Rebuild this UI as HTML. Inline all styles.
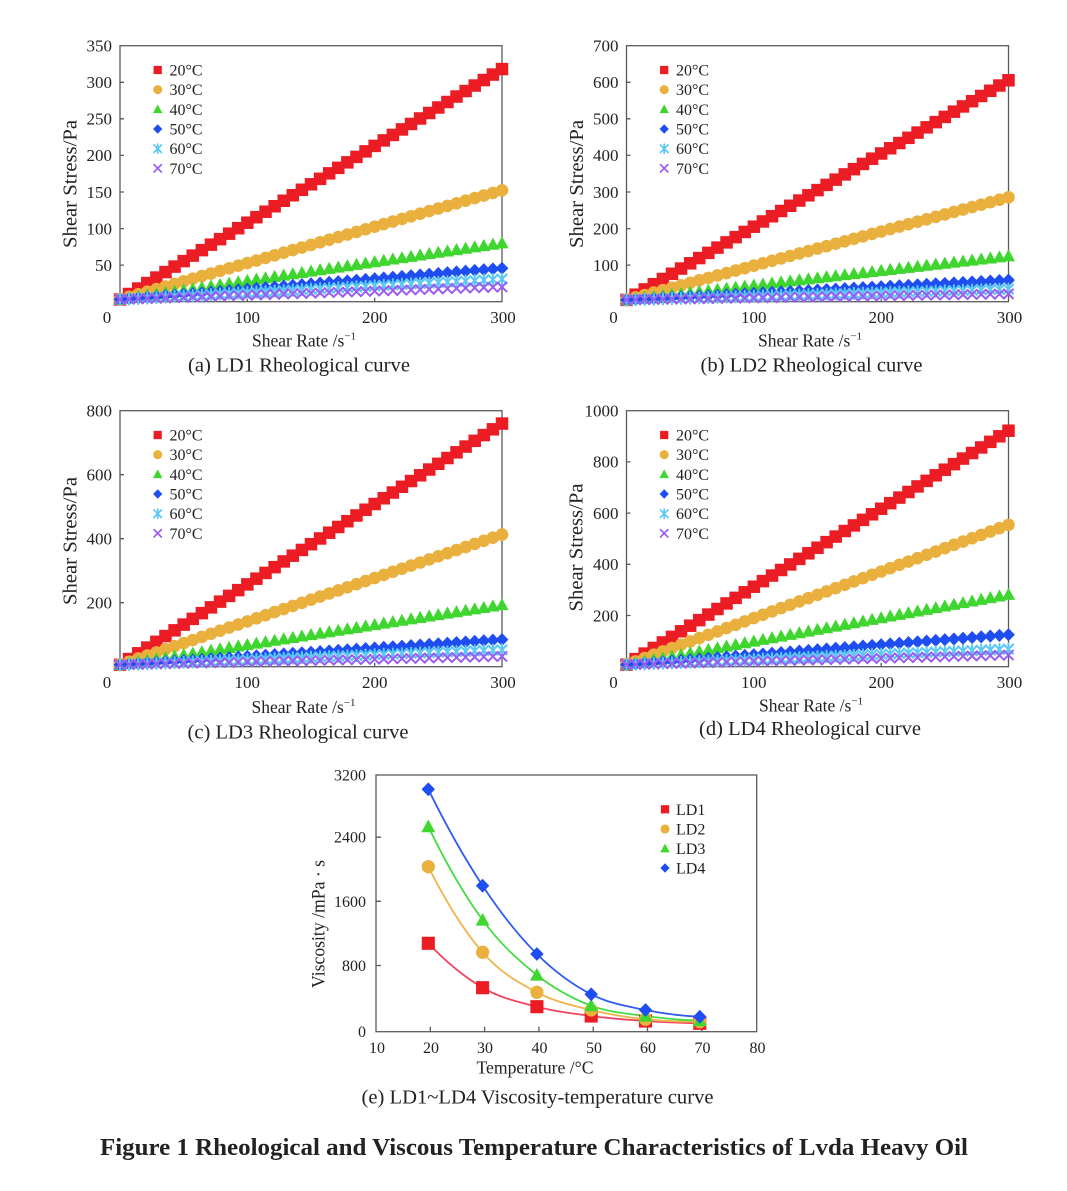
<!DOCTYPE html>
<html><head><meta charset="utf-8">
<style>
html,body{margin:0;padding:0;background:#fff}
svg{display:block}
text{font-family:"Liberation Serif","DejaVu Serif",serif;fill:#222}
.tk{font-size:17px}
.tk2{font-size:16px}
.lg{font-size:16px}
.ax{font-size:17.5px}
.cap{font-size:20.5px}
.yt{font-size:20.5px}
</style></head>
<body>
<svg width="1067" height="1191" viewBox="0 0 1067 1191" xmlns="http://www.w3.org/2000/svg">
<rect width="1067" height="1191" fill="#fff"/>
<defs>
<g id="gsq"><rect x="-6.25" y="-6.25" width="12.5" height="12.5" fill="#ec1c24"/></g>
<g id="gci"><circle r="6.3" fill="#eab03e"/></g>
<g id="gtr"><polygon points="0,-6.8 6.6,5.3 -6.6,5.3" fill="#3fd62f"/></g>
<g id="gdi"><polygon points="0,-6.6 6.4,0 0,6.6 -6.4,0" fill="#1f4ef0"/></g>
<g id="gst" stroke="#5bc8f5" stroke-width="2.1" stroke-linecap="round" fill="none"><path d="M-4.6-4.6L4.6 4.6M4.6-4.6L-4.6 4.6M0-5.6V5.6"/></g>
<g id="gxx" stroke="#9b5cf2" stroke-width="2" stroke-linecap="round" fill="none"><path d="M-4.5-4.5L4.5 4.5M4.5-4.5L-4.5 4.5"/></g>
<marker id="msq" markerUnits="userSpaceOnUse" markerWidth="14" markerHeight="14" refX="7" refY="7" overflow="visible" orient="0"><use href="#gsq" x="7" y="7"/></marker>
<marker id="mci" markerUnits="userSpaceOnUse" markerWidth="14" markerHeight="14" refX="7" refY="7" overflow="visible" orient="0"><use href="#gci" x="7" y="7"/></marker>
<marker id="mtr" markerUnits="userSpaceOnUse" markerWidth="14" markerHeight="14" refX="7" refY="7" overflow="visible" orient="0"><use href="#gtr" x="7" y="7"/></marker>
<marker id="mdi" markerUnits="userSpaceOnUse" markerWidth="14" markerHeight="14" refX="7" refY="7" overflow="visible" orient="0"><use href="#gdi" x="7" y="7"/></marker>
<marker id="mst" markerUnits="userSpaceOnUse" markerWidth="14" markerHeight="14" refX="7" refY="7" overflow="visible" orient="0"><use href="#gst" x="7" y="7"/></marker>
<marker id="mxx" markerUnits="userSpaceOnUse" markerWidth="14" markerHeight="14" refX="7" refY="7" overflow="visible" orient="0"><use href="#gxx" x="7" y="7"/></marker>
<g id="legend">
<use href="#gsq" transform="translate(37.7,24.3) scale(0.66)"/>
<use href="#gci" transform="translate(37.7,44) scale(0.72)"/>
<use href="#gtr" transform="translate(37.7,63.6) scale(0.72)"/>
<use href="#gdi" transform="translate(37.7,83.3) scale(0.72)"/>
<use href="#gst" transform="translate(37.7,103) scale(0.82)"/>
<use href="#gxx" transform="translate(37.7,122.6) scale(0.82)"/>
<text class="lg" x="49.5" y="29.8">20°C</text>
<text class="lg" x="49.5" y="49.5">30°C</text>
<text class="lg" x="49.5" y="69.1">40°C</text>
<text class="lg" x="49.5" y="88.8">50°C</text>
<text class="lg" x="49.5" y="108.5">60°C</text>
<text class="lg" x="49.5" y="128.1">70°C</text>
</g>
</defs>

<!-- ============ Panel (a) ============ -->
<g transform="translate(120,45.7)">
<rect width="382" height="256" fill="none" stroke="#5a5a5a" stroke-width="1.3"/>
<path d="M0 219.4h4M0 182.9h4M0 146.3h4M0 109.7h4M0 73.1h4M0 36.6h4M127.3 256v-4M254.7 256v-4" stroke="#5a5a5a" stroke-width="1.3"/>
<g class="tk" text-anchor="end">
<text x="-8" y="225.2">50</text><text x="-8" y="188.7">100</text><text x="-8" y="152.1">150</text><text x="-8" y="115.5">200</text><text x="-8" y="78.9">250</text><text x="-8" y="42.4">300</text><text x="-8" y="5.8">350</text>
</g>
<g class="tk" text-anchor="middle"><text x="-13" y="277.5">0</text><text x="127.3" y="277.3">100</text><text x="254.7" y="277.3">200</text><text x="383" y="277.3">300</text></g>
<g fill="none" stroke="none">
<path marker-start="url(#msq)" marker-mid="url(#msq)" marker-end="url(#msq)" d="M0 253.8l9.095-5.486 9.095-5.486 9.095-5.486 9.095-5.486 9.095-5.486 9.095-5.486 9.095-5.486 9.095-5.486 9.095-5.486 9.095-5.486
9.095-5.486 9.095-5.486 9.095-5.486 9.095-5.486 9.095-5.486 9.095-5.486 9.095-5.486 9.095-5.486 9.095-5.486 9.095-5.486
9.095-5.486 9.095-5.486 9.095-5.486 9.095-5.486 9.095-5.486 9.095-5.486 9.095-5.486 9.095-5.486 9.095-5.486 9.095-5.486
9.095-5.486 9.095-5.486 9.095-5.486 9.095-5.486 9.095-5.486 9.095-5.486 9.095-5.486 9.095-5.486 9.095-5.486 9.095-5.486
9.095-5.486 9.095-5.486"/>
<path marker-start="url(#mci)" marker-mid="url(#mci)" marker-end="url(#mci)" d="M0 253.8l9.095-2.6 9.095-2.6 9.095-2.6 9.095-2.6 9.095-2.6 9.095-2.6 9.095-2.6 9.095-2.6 9.095-2.6 9.095-2.6
9.095-2.6 9.095-2.6 9.095-2.6 9.095-2.6 9.095-2.6 9.095-2.6 9.095-2.6 9.095-2.6 9.095-2.6 9.095-2.6
9.095-2.6 9.095-2.6 9.095-2.6 9.095-2.6 9.095-2.6 9.095-2.6 9.095-2.6 9.095-2.6 9.095-2.6 9.095-2.6
9.095-2.6 9.095-2.6 9.095-2.6 9.095-2.6 9.095-2.6 9.095-2.6 9.095-2.6 9.095-2.6 9.095-2.6 9.095-2.6
9.095-2.6 9.095-2.6"/>
<path marker-start="url(#mtr)" marker-mid="url(#mtr)" marker-end="url(#mtr)" d="M0 253.8l9.095-1.343 9.095-1.343 9.095-1.343 9.095-1.343 9.095-1.343 9.095-1.343 9.095-1.343 9.095-1.343 9.095-1.343 9.095-1.343
9.095-1.343 9.095-1.343 9.095-1.343 9.095-1.343 9.095-1.343 9.095-1.343 9.095-1.343 9.095-1.343 9.095-1.343 9.095-1.343
9.095-1.343 9.095-1.343 9.095-1.343 9.095-1.343 9.095-1.343 9.095-1.343 9.095-1.343 9.095-1.343 9.095-1.343 9.095-1.343
9.095-1.343 9.095-1.343 9.095-1.343 9.095-1.343 9.095-1.343 9.095-1.343 9.095-1.343 9.095-1.343 9.095-1.343 9.095-1.343
9.095-1.343 9.095-1.343"/>
<path marker-start="url(#mdi)" marker-mid="url(#mdi)" marker-end="url(#mdi)" d="M0 253.8l9.095-.743 9.095-.743 9.095-.743 9.095-.743 9.095-.743 9.095-.743 9.095-.743 9.095-.743 9.095-.743 9.095-.743
9.095-.743 9.095-.743 9.095-.743 9.095-.743 9.095-.743 9.095-.743 9.095-.743 9.095-.743 9.095-.743 9.095-.743
9.095-.743 9.095-.743 9.095-.743 9.095-.743 9.095-.743 9.095-.743 9.095-.743 9.095-.743 9.095-.743 9.095-.743
9.095-.743 9.095-.743 9.095-.743 9.095-.743 9.095-.743 9.095-.743 9.095-.743 9.095-.743 9.095-.743 9.095-.743
9.095-.743 9.095-.743"/>
<path marker-start="url(#mst)" marker-mid="url(#mst)" marker-end="url(#mst)" d="M0 253.8l9.095-.486 9.095-.486 9.095-.486 9.095-.486 9.095-.486 9.095-.486 9.095-.486 9.095-.486 9.095-.486 9.095-.486
9.095-.486 9.095-.486 9.095-.486 9.095-.486 9.095-.486 9.095-.486 9.095-.486 9.095-.486 9.095-.486 9.095-.486
9.095-.486 9.095-.486 9.095-.486 9.095-.486 9.095-.486 9.095-.486 9.095-.486 9.095-.486 9.095-.486 9.095-.486
9.095-.486 9.095-.486 9.095-.486 9.095-.486 9.095-.486 9.095-.486 9.095-.486 9.095-.486 9.095-.486 9.095-.486
9.095-.486 9.095-.486"/>
<path marker-start="url(#mxx)" marker-mid="url(#mxx)" marker-end="url(#mxx)" d="M0 253.8l9.095-.3 9.095-.3 9.095-.3 9.095-.3 9.095-.3 9.095-.3 9.095-.3 9.095-.3 9.095-.3 9.095-.3
9.095-.3 9.095-.3 9.095-.3 9.095-.3 9.095-.3 9.095-.3 9.095-.3 9.095-.3 9.095-.3 9.095-.3
9.095-.3 9.095-.3 9.095-.3 9.095-.3 9.095-.3 9.095-.3 9.095-.3 9.095-.3 9.095-.3 9.095-.3
9.095-.3 9.095-.3 9.095-.3 9.095-.3 9.095-.3 9.095-.3 9.095-.3 9.095-.3 9.095-.3 9.095-.3
9.095-.3 9.095-.3"/>
</g>
<use href="#legend"/>
</g>
<text class="yt" transform="translate(76.5,184) rotate(-90)" text-anchor="middle" textLength="128" lengthAdjust="spacingAndGlyphs">Shear Stress/Pa</text>
<text class="ax" x="304" y="346.5" text-anchor="middle">Shear Rate /s<tspan font-size="11" dy="-7">−1</tspan></text>
<text class="cap" x="299" y="371.5" text-anchor="middle" textLength="222" lengthAdjust="spacingAndGlyphs">(a) LD1 Rheological curve</text>

<!-- ============ Panel (b) ============ -->
<g transform="translate(626.5,45.7)">
<rect width="382" height="256" fill="none" stroke="#5a5a5a" stroke-width="1.3"/>
<path d="M0 219.4h4M0 182.9h4M0 146.3h4M0 109.7h4M0 73.1h4M0 36.6h4M127.3 256v-4M254.7 256v-4" stroke="#5a5a5a" stroke-width="1.3"/>
<g class="tk" text-anchor="end">
<text x="-8" y="225.2">100</text><text x="-8" y="188.7">200</text><text x="-8" y="152.1">300</text><text x="-8" y="115.5">400</text><text x="-8" y="78.9">500</text><text x="-8" y="42.4">600</text><text x="-8" y="5.8">700</text>
</g>
<g class="tk" text-anchor="middle"><text x="-13" y="277.5">0</text><text x="127.3" y="277.3">100</text><text x="254.7" y="277.3">200</text><text x="383" y="277.3">300</text></g>
<g fill="none" stroke="none">
<path marker-start="url(#msq)" marker-mid="url(#msq)" marker-end="url(#msq)" d="M0 254.2l9.095-5.229 9.095-5.229 9.095-5.229 9.095-5.229 9.095-5.229 9.095-5.229 9.095-5.229 9.095-5.229 9.095-5.229 9.095-5.229
9.095-5.229 9.095-5.229 9.095-5.229 9.095-5.229 9.095-5.229 9.095-5.229 9.095-5.229 9.095-5.229 9.095-5.229 9.095-5.229
9.095-5.229 9.095-5.229 9.095-5.229 9.095-5.229 9.095-5.229 9.095-5.229 9.095-5.229 9.095-5.229 9.095-5.229 9.095-5.229
9.095-5.229 9.095-5.229 9.095-5.229 9.095-5.229 9.095-5.229 9.095-5.229 9.095-5.229 9.095-5.229 9.095-5.229 9.095-5.229
9.095-5.229 9.095-5.229"/>
<path marker-start="url(#mci)" marker-mid="url(#mci)" marker-end="url(#mci)" d="M0 254.2l9.095-2.443 9.095-2.443 9.095-2.443 9.095-2.443 9.095-2.443 9.095-2.443 9.095-2.443 9.095-2.443 9.095-2.443 9.095-2.443
9.095-2.443 9.095-2.443 9.095-2.443 9.095-2.443 9.095-2.443 9.095-2.443 9.095-2.443 9.095-2.443 9.095-2.443 9.095-2.443
9.095-2.443 9.095-2.443 9.095-2.443 9.095-2.443 9.095-2.443 9.095-2.443 9.095-2.443 9.095-2.443 9.095-2.443 9.095-2.443
9.095-2.443 9.095-2.443 9.095-2.443 9.095-2.443 9.095-2.443 9.095-2.443 9.095-2.443 9.095-2.443 9.095-2.443 9.095-2.443
9.095-2.443 9.095-2.443"/>
<path marker-start="url(#mtr)" marker-mid="url(#mtr)" marker-end="url(#mtr)" d="M0 254.2l9.095-1.043 9.095-1.043 9.095-1.043 9.095-1.043 9.095-1.043 9.095-1.043 9.095-1.043 9.095-1.043 9.095-1.043 9.095-1.043
9.095-1.043 9.095-1.043 9.095-1.043 9.095-1.043 9.095-1.043 9.095-1.043 9.095-1.043 9.095-1.043 9.095-1.043 9.095-1.043
9.095-1.043 9.095-1.043 9.095-1.043 9.095-1.043 9.095-1.043 9.095-1.043 9.095-1.043 9.095-1.043 9.095-1.043 9.095-1.043
9.095-1.043 9.095-1.043 9.095-1.043 9.095-1.043 9.095-1.043 9.095-1.043 9.095-1.043 9.095-1.043 9.095-1.043 9.095-1.043
9.095-1.043 9.095-1.043"/>
<path marker-start="url(#mdi)" marker-mid="url(#mdi)" marker-end="url(#mdi)" d="M0 254.2l9.095-.471 9.095-.471 9.095-.471 9.095-.471 9.095-.471 9.095-.471 9.095-.471 9.095-.471 9.095-.471 9.095-.471
9.095-.471 9.095-.471 9.095-.471 9.095-.471 9.095-.471 9.095-.471 9.095-.471 9.095-.471 9.095-.471 9.095-.471
9.095-.471 9.095-.471 9.095-.471 9.095-.471 9.095-.471 9.095-.471 9.095-.471 9.095-.471 9.095-.471 9.095-.471
9.095-.471 9.095-.471 9.095-.471 9.095-.471 9.095-.471 9.095-.471 9.095-.471 9.095-.471 9.095-.471 9.095-.471
9.095-.471 9.095-.471"/>
<path marker-start="url(#mst)" marker-mid="url(#mst)" marker-end="url(#mst)" d="M0 254.2l9.095-.257 9.095-.257 9.095-.257 9.095-.257 9.095-.257 9.095-.257 9.095-.257 9.095-.257 9.095-.257 9.095-.257
9.095-.257 9.095-.257 9.095-.257 9.095-.257 9.095-.257 9.095-.257 9.095-.257 9.095-.257 9.095-.257 9.095-.257
9.095-.257 9.095-.257 9.095-.257 9.095-.257 9.095-.257 9.095-.257 9.095-.257 9.095-.257 9.095-.257 9.095-.257
9.095-.257 9.095-.257 9.095-.257 9.095-.257 9.095-.257 9.095-.257 9.095-.257 9.095-.257 9.095-.257 9.095-.257
9.095-.257 9.095-.257"/>
<path marker-start="url(#mxx)" marker-mid="url(#mxx)" marker-end="url(#mxx)" d="M0 254.2l9.095-.143 9.095-.143 9.095-.143 9.095-.143 9.095-.143 9.095-.143 9.095-.143 9.095-.143 9.095-.143 9.095-.143
9.095-.143 9.095-.143 9.095-.143 9.095-.143 9.095-.143 9.095-.143 9.095-.143 9.095-.143 9.095-.143 9.095-.143
9.095-.143 9.095-.143 9.095-.143 9.095-.143 9.095-.143 9.095-.143 9.095-.143 9.095-.143 9.095-.143 9.095-.143
9.095-.143 9.095-.143 9.095-.143 9.095-.143 9.095-.143 9.095-.143 9.095-.143 9.095-.143 9.095-.143 9.095-.143
9.095-.143 9.095-.143"/>
</g>
<use href="#legend"/>
</g>
<text class="yt" transform="translate(583,184) rotate(-90)" text-anchor="middle" textLength="128" lengthAdjust="spacingAndGlyphs">Shear Stress/Pa</text>
<text class="ax" x="810" y="346.5" text-anchor="middle">Shear Rate /s<tspan font-size="11" dy="-7">−1</tspan></text>
<text class="cap" x="811.5" y="371.5" text-anchor="middle" textLength="222" lengthAdjust="spacingAndGlyphs">(b) LD2 Rheological curve</text>

<!-- ============ Panel (c) ============ -->
<g transform="translate(120,410.7)">
<rect width="382" height="256" fill="none" stroke="#5a5a5a" stroke-width="1.3"/>
<path d="M0 192h4M0 128h4M0 64h4M127.3 256v-4M254.7 256v-4" stroke="#5a5a5a" stroke-width="1.3"/>
<g class="tk" text-anchor="end">
<text x="-8" y="197.8">200</text><text x="-8" y="133.8">400</text><text x="-8" y="69.8">600</text><text x="-8" y="5.8">800</text>
</g>
<g class="tk" text-anchor="middle"><text x="-13" y="277.5">0</text><text x="127.3" y="277.3">100</text><text x="254.7" y="277.3">200</text><text x="383" y="277.3">300</text></g>
<g fill="none" stroke="none">
<path marker-start="url(#msq)" marker-mid="url(#msq)" marker-end="url(#msq)" d="M0 254.1l9.095-5.743 9.095-5.743 9.095-5.743 9.095-5.743 9.095-5.743 9.095-5.743 9.095-5.743 9.095-5.743 9.095-5.743 9.095-5.743
9.095-5.743 9.095-5.743 9.095-5.743 9.095-5.743 9.095-5.743 9.095-5.743 9.095-5.743 9.095-5.743 9.095-5.743 9.095-5.743
9.095-5.743 9.095-5.743 9.095-5.743 9.095-5.743 9.095-5.743 9.095-5.743 9.095-5.743 9.095-5.743 9.095-5.743 9.095-5.743
9.095-5.743 9.095-5.743 9.095-5.743 9.095-5.743 9.095-5.743 9.095-5.743 9.095-5.743 9.095-5.743 9.095-5.743 9.095-5.743
9.095-5.743 9.095-5.743"/>
<path marker-start="url(#mci)" marker-mid="url(#mci)" marker-end="url(#mci)" d="M0 254.1l9.095-3.1 9.095-3.1 9.095-3.1 9.095-3.1 9.095-3.1 9.095-3.1 9.095-3.1 9.095-3.1 9.095-3.1 9.095-3.1
9.095-3.1 9.095-3.1 9.095-3.1 9.095-3.1 9.095-3.1 9.095-3.1 9.095-3.1 9.095-3.1 9.095-3.1 9.095-3.1
9.095-3.1 9.095-3.1 9.095-3.1 9.095-3.1 9.095-3.1 9.095-3.1 9.095-3.1 9.095-3.1 9.095-3.1 9.095-3.1
9.095-3.1 9.095-3.1 9.095-3.1 9.095-3.1 9.095-3.1 9.095-3.1 9.095-3.1 9.095-3.1 9.095-3.1 9.095-3.1
9.095-3.1 9.095-3.1"/>
<path marker-start="url(#mtr)" marker-mid="url(#mtr)" marker-end="url(#mtr)" d="M0 254.1l9.095-1.429 9.095-1.429 9.095-1.429 9.095-1.429 9.095-1.429 9.095-1.429 9.095-1.429 9.095-1.429 9.095-1.429 9.095-1.429
9.095-1.429 9.095-1.429 9.095-1.429 9.095-1.429 9.095-1.429 9.095-1.429 9.095-1.429 9.095-1.429 9.095-1.429 9.095-1.429
9.095-1.429 9.095-1.429 9.095-1.429 9.095-1.429 9.095-1.429 9.095-1.429 9.095-1.429 9.095-1.429 9.095-1.429 9.095-1.429
9.095-1.429 9.095-1.429 9.095-1.429 9.095-1.429 9.095-1.429 9.095-1.429 9.095-1.429 9.095-1.429 9.095-1.429 9.095-1.429
9.095-1.429 9.095-1.429"/>
<path marker-start="url(#mdi)" marker-mid="url(#mdi)" marker-end="url(#mdi)" d="M0 254.1l9.095-.6 9.095-.6 9.095-.6 9.095-.6 9.095-.6 9.095-.6 9.095-.6 9.095-.6 9.095-.6 9.095-.6
9.095-.6 9.095-.6 9.095-.6 9.095-.6 9.095-.6 9.095-.6 9.095-.6 9.095-.6 9.095-.6 9.095-.6
9.095-.6 9.095-.6 9.095-.6 9.095-.6 9.095-.6 9.095-.6 9.095-.6 9.095-.6 9.095-.6 9.095-.6
9.095-.6 9.095-.6 9.095-.6 9.095-.6 9.095-.6 9.095-.6 9.095-.6 9.095-.6 9.095-.6 9.095-.6
9.095-.6 9.095-.6"/>
<path marker-start="url(#mst)" marker-mid="url(#mst)" marker-end="url(#mst)" d="M0 254.1l9.095-.357 9.095-.357 9.095-.357 9.095-.357 9.095-.357 9.095-.357 9.095-.357 9.095-.357 9.095-.357 9.095-.357
9.095-.357 9.095-.357 9.095-.357 9.095-.357 9.095-.357 9.095-.357 9.095-.357 9.095-.357 9.095-.357 9.095-.357
9.095-.357 9.095-.357 9.095-.357 9.095-.357 9.095-.357 9.095-.357 9.095-.357 9.095-.357 9.095-.357 9.095-.357
9.095-.357 9.095-.357 9.095-.357 9.095-.357 9.095-.357 9.095-.357 9.095-.357 9.095-.357 9.095-.357 9.095-.357
9.095-.357 9.095-.357"/>
<path marker-start="url(#mxx)" marker-mid="url(#mxx)" marker-end="url(#mxx)" d="M0 254.1l9.095-.2 9.095-.2 9.095-.2 9.095-.2 9.095-.2 9.095-.2 9.095-.2 9.095-.2 9.095-.2 9.095-.2
9.095-.2 9.095-.2 9.095-.2 9.095-.2 9.095-.2 9.095-.2 9.095-.2 9.095-.2 9.095-.2 9.095-.2
9.095-.2 9.095-.2 9.095-.2 9.095-.2 9.095-.2 9.095-.2 9.095-.2 9.095-.2 9.095-.2 9.095-.2
9.095-.2 9.095-.2 9.095-.2 9.095-.2 9.095-.2 9.095-.2 9.095-.2 9.095-.2 9.095-.2 9.095-.2
9.095-.2 9.095-.2"/>
</g>
<use href="#legend"/>
</g>
<text class="yt" transform="translate(76.5,541) rotate(-90)" text-anchor="middle" textLength="128" lengthAdjust="spacingAndGlyphs">Shear Stress/Pa</text>
<text class="ax" x="303.5" y="713" text-anchor="middle">Shear Rate /s<tspan font-size="11" dy="-7">−1</tspan></text>
<text class="cap" x="298" y="738.3" text-anchor="middle" textLength="221" lengthAdjust="spacingAndGlyphs">(c) LD3 Rheological curve</text>

<!-- ============ Panel (d) ============ -->
<g transform="translate(626.5,410.7)">
<rect width="382" height="256" fill="none" stroke="#5a5a5a" stroke-width="1.3"/>
<path d="M0 204.8h4M0 153.6h4M0 102.4h4M0 51.2h4M127.3 256v-4M254.7 256v-4" stroke="#5a5a5a" stroke-width="1.3"/>
<g class="tk" text-anchor="end">
<text x="-8" y="210.6">200</text><text x="-8" y="159.4">400</text><text x="-8" y="108.2">600</text><text x="-8" y="57">800</text><text x="-8" y="5.8">1000</text>
</g>
<g class="tk" text-anchor="middle"><text x="-13" y="277.5">0</text><text x="127.3" y="277.3">100</text><text x="254.7" y="277.3">200</text><text x="383" y="277.3">300</text></g>
<g fill="none" stroke="none">
<path marker-start="url(#msq)" marker-mid="url(#msq)" marker-end="url(#msq)" d="M0 254l9.095-5.571 9.095-5.571 9.095-5.571 9.095-5.571 9.095-5.571 9.095-5.571 9.095-5.571 9.095-5.571 9.095-5.571 9.095-5.571
9.095-5.571 9.095-5.571 9.095-5.571 9.095-5.571 9.095-5.571 9.095-5.571 9.095-5.571 9.095-5.571 9.095-5.571 9.095-5.571
9.095-5.571 9.095-5.571 9.095-5.571 9.095-5.571 9.095-5.571 9.095-5.571 9.095-5.571 9.095-5.571 9.095-5.571 9.095-5.571
9.095-5.571 9.095-5.571 9.095-5.571 9.095-5.571 9.095-5.571 9.095-5.571 9.095-5.571 9.095-5.571 9.095-5.571 9.095-5.571
9.095-5.571 9.095-5.571"/>
<path marker-start="url(#mci)" marker-mid="url(#mci)" marker-end="url(#mci)" d="M0 254l9.095-3.329 9.095-3.329 9.095-3.329 9.095-3.329 9.095-3.329 9.095-3.329 9.095-3.329 9.095-3.329 9.095-3.329 9.095-3.329
9.095-3.329 9.095-3.329 9.095-3.329 9.095-3.329 9.095-3.329 9.095-3.329 9.095-3.329 9.095-3.329 9.095-3.329 9.095-3.329
9.095-3.329 9.095-3.329 9.095-3.329 9.095-3.329 9.095-3.329 9.095-3.329 9.095-3.329 9.095-3.329 9.095-3.329 9.095-3.329
9.095-3.329 9.095-3.329 9.095-3.329 9.095-3.329 9.095-3.329 9.095-3.329 9.095-3.329 9.095-3.329 9.095-3.329 9.095-3.329
9.095-3.329 9.095-3.329"/>
<path marker-start="url(#mtr)" marker-mid="url(#mtr)" marker-end="url(#mtr)" d="M0 254l9.095-1.671 9.095-1.671 9.095-1.671 9.095-1.671 9.095-1.671 9.095-1.671 9.095-1.671 9.095-1.671 9.095-1.671 9.095-1.671
9.095-1.671 9.095-1.671 9.095-1.671 9.095-1.671 9.095-1.671 9.095-1.671 9.095-1.671 9.095-1.671 9.095-1.671 9.095-1.671
9.095-1.671 9.095-1.671 9.095-1.671 9.095-1.671 9.095-1.671 9.095-1.671 9.095-1.671 9.095-1.671 9.095-1.671 9.095-1.671
9.095-1.671 9.095-1.671 9.095-1.671 9.095-1.671 9.095-1.671 9.095-1.671 9.095-1.671 9.095-1.671 9.095-1.671 9.095-1.671
9.095-1.671 9.095-1.671"/>
<path marker-start="url(#mdi)" marker-mid="url(#mdi)" marker-end="url(#mdi)" d="M0 254l9.095-.714 9.095-.714 9.095-.714 9.095-.714 9.095-.714 9.095-.714 9.095-.714 9.095-.714 9.095-.714 9.095-.714
9.095-.714 9.095-.714 9.095-.714 9.095-.714 9.095-.714 9.095-.714 9.095-.714 9.095-.714 9.095-.714 9.095-.714
9.095-.714 9.095-.714 9.095-.714 9.095-.714 9.095-.714 9.095-.714 9.095-.714 9.095-.714 9.095-.714 9.095-.714
9.095-.714 9.095-.714 9.095-.714 9.095-.714 9.095-.714 9.095-.714 9.095-.714 9.095-.714 9.095-.714 9.095-.714
9.095-.714 9.095-.714"/>
<path marker-start="url(#mst)" marker-mid="url(#mst)" marker-end="url(#mst)" d="M0 254l9.095-.371 9.095-.371 9.095-.371 9.095-.371 9.095-.371 9.095-.371 9.095-.371 9.095-.371 9.095-.371 9.095-.371
9.095-.371 9.095-.371 9.095-.371 9.095-.371 9.095-.371 9.095-.371 9.095-.371 9.095-.371 9.095-.371 9.095-.371
9.095-.371 9.095-.371 9.095-.371 9.095-.371 9.095-.371 9.095-.371 9.095-.371 9.095-.371 9.095-.371 9.095-.371
9.095-.371 9.095-.371 9.095-.371 9.095-.371 9.095-.371 9.095-.371 9.095-.371 9.095-.371 9.095-.371 9.095-.371
9.095-.371 9.095-.371"/>
<path marker-start="url(#mxx)" marker-mid="url(#mxx)" marker-end="url(#mxx)" d="M0 254l9.095-.229 9.095-.229 9.095-.229 9.095-.229 9.095-.229 9.095-.229 9.095-.229 9.095-.229 9.095-.229 9.095-.229
9.095-.229 9.095-.229 9.095-.229 9.095-.229 9.095-.229 9.095-.229 9.095-.229 9.095-.229 9.095-.229 9.095-.229
9.095-.229 9.095-.229 9.095-.229 9.095-.229 9.095-.229 9.095-.229 9.095-.229 9.095-.229 9.095-.229 9.095-.229
9.095-.229 9.095-.229 9.095-.229 9.095-.229 9.095-.229 9.095-.229 9.095-.229 9.095-.229 9.095-.229 9.095-.229
9.095-.229 9.095-.229"/>
</g>
<use href="#legend"/>
</g>
<text class="yt" transform="translate(582.5,547.5) rotate(-90)" text-anchor="middle" textLength="128" lengthAdjust="spacingAndGlyphs">Shear Stress/Pa</text>
<text class="ax" x="811" y="711.5" text-anchor="middle">Shear Rate /s<tspan font-size="11" dy="-7">−1</tspan></text>
<text class="cap" x="810" y="735" text-anchor="middle" textLength="222" lengthAdjust="spacingAndGlyphs">(d) LD4 Rheological curve</text>

<!-- ============ Panel (e) ============ -->
<rect x="376" y="775" width="380.7" height="256.7" fill="none" stroke="#5a5a5a" stroke-width="1.3"/>
<path d="M376 965.5h5M376 901.3h5M376 837.2h5M430.3 1031.7v-5M484.6 1031.7v-5M538.9 1031.7v-5M593.2 1031.7v-5M647.5 1031.7v-5M701.8 1031.7v-5" stroke="#5a5a5a" stroke-width="1.3"/>
<g class="tk2" text-anchor="end">
<text x="366" y="1037">0</text><text x="366" y="970.8">800</text><text x="366" y="906.8">1600</text><text x="366" y="842.7">2400</text><text x="366" y="780.5">3200</text>
</g>
<g class="tk2" text-anchor="middle">
<text x="377" y="1053">10</text><text x="431" y="1053">20</text><text x="485" y="1053">30</text><text x="539.5" y="1053">40</text><text x="594" y="1053">50</text><text x="648" y="1053">60</text><text x="702.5" y="1053">70</text><text x="757.5" y="1053">80</text>
</g>
<g fill="none" stroke-width="1.8">
<path stroke="#f0435f" d="M428.3 943.3C446.4 962.3 464.5 977.1 482.6 987.7C500.7 998.3 518.8 1002 536.9 1006.7C555 1011.4 573.1 1013.6 591.2 1016C609.3 1018.4 627.4 1019.8 645.5 1021C663.6 1022.2 681.7 1023 699.8 1023.3"/>
<path stroke="#eeb54a" d="M428.3 866.7C446.4 902.8 464.5 931.4 482.6 952.3C500.7 973.2 518.8 982.7 536.9 992.3C555 1001.9 573.1 1005.5 591.2 1010C609.3 1014.5 627.4 1017.35 645.5 1019.3C663.6 1021.25 681.7 1021.7 699.8 1021.7"/>
<path stroke="#44dd44" d="M428.3 826.7C446.4 864.2 464.5 895.3 482.6 920C500.7 944.7 518.8 960.7 536.9 975C555 989.3 573.1 998.9 591.2 1005.7C609.3 1012.5 627.4 1013.5 645.5 1016C663.6 1018.5 681.7 1020.1 699.8 1020.7"/>
<path stroke="#2f5cf0" d="M428.3 789.3C446.4 826.1 464.5 858.2 482.6 885.7C500.7 913.2 518.8 935.9 536.9 954C555 972.1 573.1 985 591.2 994.3C609.3 1003.6 627.4 1006.3 645.5 1010C663.6 1013.7 681.7 1016 699.8 1016.7"/>
</g>
<g>
<use href="#gsq" transform="translate(428.3,943.3) scale(1.05)"/><use href="#gsq" transform="translate(482.6,987.7) scale(1.05)"/><use href="#gsq" transform="translate(536.9,1006.7) scale(1.05)"/><use href="#gsq" transform="translate(591.2,1016) scale(1.05)"/><use href="#gsq" transform="translate(645.5,1021) scale(1.05)"/><use href="#gsq" transform="translate(699.8,1023.3) scale(1.05)"/>
<use href="#gci" transform="translate(428.3,866.7) scale(1.05)"/><use href="#gci" transform="translate(482.6,952.3) scale(1.05)"/><use href="#gci" transform="translate(536.9,992.3) scale(1.05)"/><use href="#gci" transform="translate(591.2,1010) scale(1.05)"/><use href="#gci" transform="translate(645.5,1019.3) scale(1.05)"/><use href="#gci" transform="translate(699.8,1021.7) scale(1.05)"/>
<use href="#gtr" transform="translate(428.3,826.7) scale(1.05)"/><use href="#gtr" transform="translate(482.6,920) scale(1.05)"/><use href="#gtr" transform="translate(536.9,975) scale(1.05)"/><use href="#gtr" transform="translate(591.2,1005.7) scale(1.05)"/><use href="#gtr" transform="translate(645.5,1016) scale(1.05)"/><use href="#gtr" transform="translate(699.8,1020.7) scale(1.05)"/>
<use href="#gdi" transform="translate(428.3,789.3) scale(1.05)"/><use href="#gdi" transform="translate(482.6,885.7) scale(1.05)"/><use href="#gdi" transform="translate(536.9,954) scale(1.05)"/><use href="#gdi" transform="translate(591.2,994.3) scale(1.05)"/><use href="#gdi" transform="translate(645.5,1010) scale(1.05)"/><use href="#gdi" transform="translate(699.8,1016.7) scale(1.05)"/>
</g>
<use href="#gsq" transform="translate(665,809.3) scale(0.66)"/>
<use href="#gci" transform="translate(665,829) scale(0.72)"/>
<use href="#gtr" transform="translate(665,848.5) scale(0.72)"/>
<use href="#gdi" transform="translate(665,868) scale(0.72)"/>
<g class="lg">
<text x="676" y="814.8">LD1</text><text x="676" y="834.5">LD2</text><text x="676" y="854">LD3</text><text x="676" y="873.5">LD4</text>
</g>
<text transform="translate(324.5,924) rotate(-90)" text-anchor="middle" font-size="19" textLength="128" lengthAdjust="spacingAndGlyphs">Viscosity /mPa · s</text>
<text x="535" y="1073.5" text-anchor="middle" font-size="18" textLength="117" lengthAdjust="spacingAndGlyphs">Temperature /°C</text>
<text class="cap" x="537.5" y="1103.3" text-anchor="middle" textLength="352" lengthAdjust="spacingAndGlyphs">(e) LD1~LD4 Viscosity-temperature curve</text>

<!-- Title -->
<text x="534" y="1155" text-anchor="middle" font-weight="bold" font-size="24.5" textLength="868" lengthAdjust="spacingAndGlyphs">Figure 1 Rheological and Viscous Temperature Characteristics of Lvda Heavy Oil</text>
</svg>
</body></html>
